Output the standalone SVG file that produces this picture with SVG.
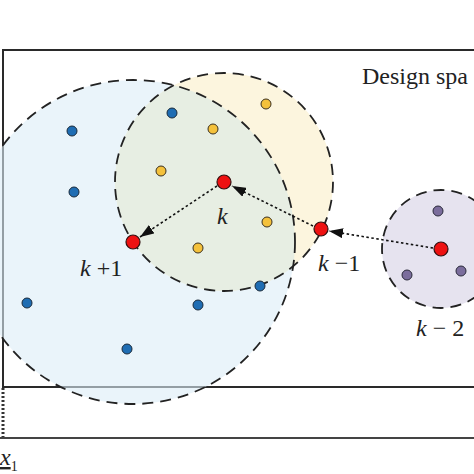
<svg xmlns="http://www.w3.org/2000/svg" width="474" height="474" viewBox="0 0 474 474">
<style>
.frame{stroke:#2a2a2a;stroke-width:2;fill:none}
.region{stroke:#222;stroke-width:1.8;stroke-dasharray:11 7}
.path{stroke:#111;stroke-width:1.6;stroke-dasharray:2.5 2.5;fill:none}
.blue{fill:#1f6db3;stroke:#1a2a3a;stroke-width:1}
.yel{fill:#f4c13c;stroke:#3a3020;stroke-width:1}
.pur{fill:#7b6d9c;stroke:#2a2a3a;stroke-width:1}
.red{fill:#ee1111;stroke:#331111;stroke-width:1.2}
.lbl{font-family:"Liberation Serif","Times New Roman",serif;font-size:24px;fill:#222}
.it{font-style:italic}
</style>
<defs>
<marker id="ah" markerUnits="userSpaceOnUse" markerWidth="14" markerHeight="10" refX="14" refY="5" orient="auto">
<path d="M0,0 L14,5 L0,10 z" fill="#111"/>
</marker>
<clipPath id="bluec"><circle cx="133" cy="242" r="162"/></clipPath>
</defs>
<rect width="474" height="474" fill="#fff"/>
<g id="frame">
<line class="frame" x1="2" y1="50" x2="474" y2="50"/>
<line class="frame" x1="3" y1="50" x2="3" y2="388"/>
<line class="frame" x1="3" y1="387" x2="474" y2="387"/>
<line x1="3" y1="388" x2="3" y2="438" stroke="#333" stroke-width="3" stroke-dasharray="2 2"/>
<line x1="0" y1="438" x2="474" y2="438" stroke="#444" stroke-width="2"/>
</g>
<g id="regions">
<circle id="region-k1" cx="133" cy="242" r="162" fill="#dcecf6" fill-opacity="0.6"/>
<circle id="region-k" cx="224" cy="182" r="109" fill="#fcf5de"/>
<circle cx="224" cy="182" r="109" fill="#e7eee3" clip-path="url(#bluec)"/>
<circle id="region-k2" cx="441" cy="249" r="59" fill="#e6e3ef"/>
<circle class="region" cx="133" cy="242" r="162" fill="none"/>
<circle class="region" cx="224" cy="182" r="109" fill="none"/>
<circle class="region" cx="441" cy="249" r="59" fill="none"/>
</g>
<g id="connectors">
<line class="path" x1="433" y1="248" x2="329" y2="231" marker-end="url(#ah)"/>
<line class="path" x1="313" y1="226" x2="232" y2="186" marker-end="url(#ah)"/>
<line class="path" x1="217" y1="186" x2="140" y2="237" marker-end="url(#ah)"/>
</g>
<g id="samples">
<circle class="blue" cx="172" cy="113" r="5"/>
<circle class="blue" cx="72" cy="131" r="5"/>
<circle class="blue" cx="74" cy="192" r="5"/>
<circle class="blue" cx="260" cy="286" r="5"/>
<circle class="blue" cx="27" cy="303" r="5"/>
<circle class="blue" cx="198" cy="305" r="5"/>
<circle class="blue" cx="127" cy="349" r="5"/>
<circle class="yel" cx="266" cy="104" r="5"/>
<circle class="yel" cx="213" cy="129" r="5"/>
<circle class="yel" cx="161" cy="171" r="5"/>
<circle class="yel" cx="267" cy="222" r="5"/>
<circle class="yel" cx="198" cy="248" r="5"/>
<circle class="pur" cx="438" cy="211" r="5"/>
<circle class="pur" cx="407" cy="275" r="5"/>
<circle class="pur" cx="461" cy="271" r="5"/>
</g>
<g id="node-k"><circle class="red" cx="224" cy="182" r="7"/><text class="lbl it" x="217" y="224">k</text></g>
<g id="node-k1"><circle class="red" cx="133" cy="242" r="7"/><text class="lbl" x="80" y="276"><tspan class="it">k</tspan> +1</text></g>
<g id="node-km1"><circle class="red" cx="321" cy="229" r="7"/><text class="lbl" x="318" y="271"><tspan class="it">k</tspan> −1</text></g>
<g id="node-km2"><circle class="red" cx="441" cy="249" r="7"/><text class="lbl" x="416" y="336"><tspan class="it">k</tspan> − 2</text></g>
<text class="lbl" x="362" y="84" font-size="20">Design spa</text>
<text class="lbl" x="0" y="465" font-size="20"><tspan class="it" text-decoration="underline">x</tspan><tspan font-size="14" dy="6">1</tspan></text>
</svg>
